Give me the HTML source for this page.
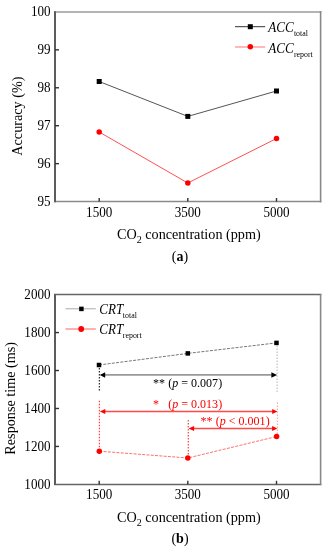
<!DOCTYPE html>
<html><head><meta charset="utf-8"><style>
html,body{margin:0;padding:0;background:#fff;}
svg{display:block;}
text{font-family:"Liberation Serif",serif;fill:#000;}
.t{font-size:13.8px;}
.ttl{font-size:14.2px;}
.it{font-style:italic;}
</style></head><body>
<svg width="327" height="550" viewBox="0 0 327 550">
<rect x="0" y="0" width="327" height="550" fill="#fff"/>

<!-- ========== Chart (a) ========== -->
<g>
<line x1="54" y1="11.9" x2="321.4" y2="11.9" stroke="#9a9a9a" stroke-width="1.5"/>
<line x1="54" y1="201.6" x2="321.4" y2="201.6" stroke="#8a8a8a" stroke-width="1.5"/>
<line x1="320.6" y1="11.200000000000001" x2="320.6" y2="202.29999999999998" stroke="#888" stroke-width="1.6"/>
<line x1="55" y1="11.200000000000001" x2="55" y2="202.29999999999998" stroke="#5c5c5c" stroke-width="2"/>
<g stroke="#333" stroke-width="1.4">
<line x1="55" y1="49.84" x2="59" y2="49.84"/>
<line x1="55" y1="87.78" x2="59" y2="87.78"/>
<line x1="55" y1="125.72" x2="59" y2="125.72"/>
<line x1="55" y1="163.66" x2="59" y2="163.66"/>
<line x1="99.2" y1="201.6" x2="99.2" y2="198.0"/>
<line x1="187.8" y1="201.6" x2="187.8" y2="198.0"/>
<line x1="276.5" y1="201.6" x2="276.5" y2="198.0"/>
</g>
<text class="t" text-anchor="end" transform="translate(50.5,16.29) scale(0.949,1)">100</text>
<text class="t" text-anchor="end" transform="translate(50.5,54.23) scale(0.949,1)">99</text>
<text class="t" text-anchor="end" transform="translate(50.5,92.17) scale(0.949,1)">98</text>
<text class="t" text-anchor="end" transform="translate(50.5,130.11) scale(0.949,1)">97</text>
<text class="t" text-anchor="end" transform="translate(50.5,168.05) scale(0.949,1)">96</text>
<text class="t" text-anchor="end" transform="translate(50.5,205.99) scale(0.949,1)">95</text>
<text class="t" text-anchor="middle" transform="translate(99.2,216.50) scale(0.949,1)">1500</text>
<text class="t" text-anchor="middle" transform="translate(187.8,216.50) scale(0.949,1)">3500</text>
<text class="t" text-anchor="middle" transform="translate(276.5,216.50) scale(0.949,1)">5000</text>
<text class="ttl" x="117" y="238.8">CO<tspan font-size="10" dy="4.3">2</tspan><tspan dy="-4.3"> concentration (ppm)</tspan></text>
<text class="ttl" text-anchor="middle" transform="translate(21.6,116.1) rotate(-90)">Accuracy (%)</text>
<text x="180" y="260.6" text-anchor="middle" font-size="14">(<tspan font-weight="bold">a</tspan>)</text>

<polyline points="99.2,81.5 187.8,116.4 276.5,91" fill="none" stroke="#555" stroke-width="1"/>
<polyline points="99.2,132 187.8,183 276.5,138.5" fill="none" stroke="#ff5050" stroke-width="1"/>
<g fill="#000">
<rect x="96.7" y="79" width="5" height="5"/>
<rect x="185.3" y="113.9" width="5" height="5"/>
<rect x="274" y="88.5" width="5" height="5"/>
</g>
<g fill="#f00">
<circle cx="99.2" cy="132" r="2.75"/>
<circle cx="187.8" cy="183" r="2.75"/>
<circle cx="276.5" cy="138.5" r="2.75"/>
</g>
<line x1="235" y1="26.7" x2="265.2" y2="26.7" stroke="#333" stroke-width="1"/>
<rect x="247.8" y="24.2" width="5" height="5" fill="#000"/>
<line x1="235" y1="47" x2="265.2" y2="47" stroke="#ff7070" stroke-width="1"/>
<circle cx="250.3" cy="46.8" r="2.75" fill="#f00"/>
<text transform="translate(268.3,31.9) scale(0.94,1)" font-size="14"><tspan class="it">ACC</tspan><tspan font-size="8.4" dy="4.1">total</tspan></text>
<text transform="translate(268.3,52.5) scale(0.94,1)" font-size="14"><tspan class="it">ACC</tspan><tspan font-size="8.4" dy="4.1">report</tspan></text>
</g>

<!-- ========== Chart (b) ========== -->
<g>
<line x1="54" y1="294.6" x2="321.4" y2="294.6" stroke="#666" stroke-width="1.5"/>
<line x1="54" y1="484.4" x2="321.4" y2="484.4" stroke="#666" stroke-width="1.5"/>
<line x1="320.6" y1="293.90000000000003" x2="320.6" y2="485.09999999999997" stroke="#888" stroke-width="1.6"/>
<line x1="55" y1="293.90000000000003" x2="55" y2="485.09999999999997" stroke="#5c5c5c" stroke-width="2"/>
<g stroke="#333" stroke-width="1.4">
<line x1="55" y1="332.56" x2="59" y2="332.56"/>
<line x1="55" y1="370.52" x2="59" y2="370.52"/>
<line x1="55" y1="408.48" x2="59" y2="408.48"/>
<line x1="55" y1="446.44" x2="59" y2="446.44"/>
<line x1="99.2" y1="484.4" x2="99.2" y2="480.79999999999995"/>
<line x1="187.8" y1="484.4" x2="187.8" y2="480.79999999999995"/>
<line x1="276.5" y1="484.4" x2="276.5" y2="480.79999999999995"/>
</g>
<text class="t" text-anchor="end" transform="translate(50.5,298.99) scale(0.949,1)">2000</text>
<text class="t" text-anchor="end" transform="translate(50.5,336.95) scale(0.949,1)">1800</text>
<text class="t" text-anchor="end" transform="translate(50.5,374.91) scale(0.949,1)">1600</text>
<text class="t" text-anchor="end" transform="translate(50.5,412.87) scale(0.949,1)">1400</text>
<text class="t" text-anchor="end" transform="translate(50.5,450.83) scale(0.949,1)">1200</text>
<text class="t" text-anchor="end" transform="translate(50.5,488.79) scale(0.949,1)">1000</text>
<text class="t" text-anchor="middle" transform="translate(99.2,499.30) scale(0.949,1)">1500</text>
<text class="t" text-anchor="middle" transform="translate(187.8,499.30) scale(0.949,1)">3500</text>
<text class="t" text-anchor="middle" transform="translate(276.5,499.30) scale(0.949,1)">5000</text>
<text class="ttl" x="117" y="521.6">CO<tspan font-size="10" dy="4.3">2</tspan><tspan dy="-4.3"> concentration (ppm)</tspan></text>
<text class="ttl" text-anchor="middle" transform="translate(15.4,398.3) rotate(-90)">Response time (ms)</text>
<text x="180" y="543" text-anchor="middle" font-size="14">(<tspan font-weight="bold">b</tspan>)</text>

<line x1="99.4" y1="368" x2="99.4" y2="390.8" stroke="#333" stroke-width="1.3" stroke-dasharray="1.5,1.5"/>
<line x1="277.1" y1="345.5" x2="277.1" y2="392.5" stroke="#bbb" stroke-width="1.1" stroke-dasharray="1.5,1.5"/>
<line x1="99.4" y1="400.8" x2="99.4" y2="448.5" stroke="#ff4040" stroke-width="1.2" stroke-dasharray="1.5,1.5"/>
<line x1="188.3" y1="420" x2="188.3" y2="455.4" stroke="#ff4040" stroke-width="1.2" stroke-dasharray="1.5,1.5"/>
<line x1="277.4" y1="402.6" x2="277.4" y2="433.9" stroke="#ffa0a0" stroke-width="1.1" stroke-dasharray="1.5,1.5"/>

<polyline points="99,365 187.8,353.4 276.5,342.9" fill="none" stroke="#777" stroke-width="1" stroke-dasharray="3,1.3"/>
<polyline points="99.3,451.2 187.8,458 276.6,436.5" fill="none" stroke="#ff7070" stroke-width="1" stroke-dasharray="3,1.3"/>
<g fill="#000">
<rect x="96.75" y="362.75" width="4.5" height="4.5"/>
<rect x="185.55" y="351.15" width="4.5" height="4.5"/>
<rect x="274.25" y="340.65" width="4.5" height="4.5"/>
</g>
<g fill="#f00">
<circle cx="99.3" cy="451.2" r="2.75"/>
<circle cx="187.8" cy="458" r="2.75"/>
<circle cx="276.6" cy="436.5" r="2.75"/>
</g>

<line x1="104" y1="374.9" x2="272" y2="374.9" stroke="#999" stroke-width="1.9"/>
<polygon points="99.8,375 105.2,372.2 105.2,377.8" fill="#000"/>
<polygon points="277.1,375 271.4,372.2 271.4,377.8" fill="#000"/>
<line x1="104" y1="411.4" x2="273" y2="411.4" stroke="#ff4848" stroke-width="1.5"/>
<polygon points="99.8,411.4 105.3,408.9 105.3,413.9" fill="#f00"/>
<polygon points="277.4,411.4 272.2,408.9 272.2,413.9" fill="#f00"/>
<line x1="193" y1="428.6" x2="273" y2="428.6" stroke="#ff4848" stroke-width="1.5"/>
<polygon points="188.6,428.4 194.1,425.9 194.1,430.9" fill="#f00"/>
<polygon points="277.3,428.6 272.1,426.1 272.1,431.1" fill="#f00"/>

<g font-size="13.4">
<text transform="translate(153.1,387) scale(0.9,1)">** (<tspan class="it">p</tspan> = 0.007)</text>
<text transform="translate(153.1,407.9) scale(0.9,1)" style="fill:#f00">*<tspan x="16.75">(</tspan><tspan class="it">p</tspan> = 0.013)</text>
<text transform="translate(200.6,425.2) scale(0.9,1)" style="fill:#f00">** (<tspan class="it">p</tspan> &lt; 0.001)</text>
</g>

<line x1="65.5" y1="308.8" x2="95.8" y2="308.8" stroke="#aaa" stroke-width="1"/>
<rect x="79.15" y="306.65" width="4.5" height="4.5" fill="#000"/>
<line x1="65.5" y1="329" x2="95.8" y2="329" stroke="#ff6060" stroke-width="1"/>
<circle cx="81.2" cy="329" r="2.9" fill="#f00"/>
<text transform="translate(99.3,314) scale(0.94,1)" font-size="14"><tspan class="it">CRT</tspan><tspan font-size="8.4" dy="3.9" dx="-0.6">total</tspan></text>
<text transform="translate(99.3,333.6) scale(0.94,1)" font-size="14"><tspan class="it">CRT</tspan><tspan font-size="8.4" dy="3.9" dx="-0.6">report</tspan></text>
</g>
</svg>
</body></html>
